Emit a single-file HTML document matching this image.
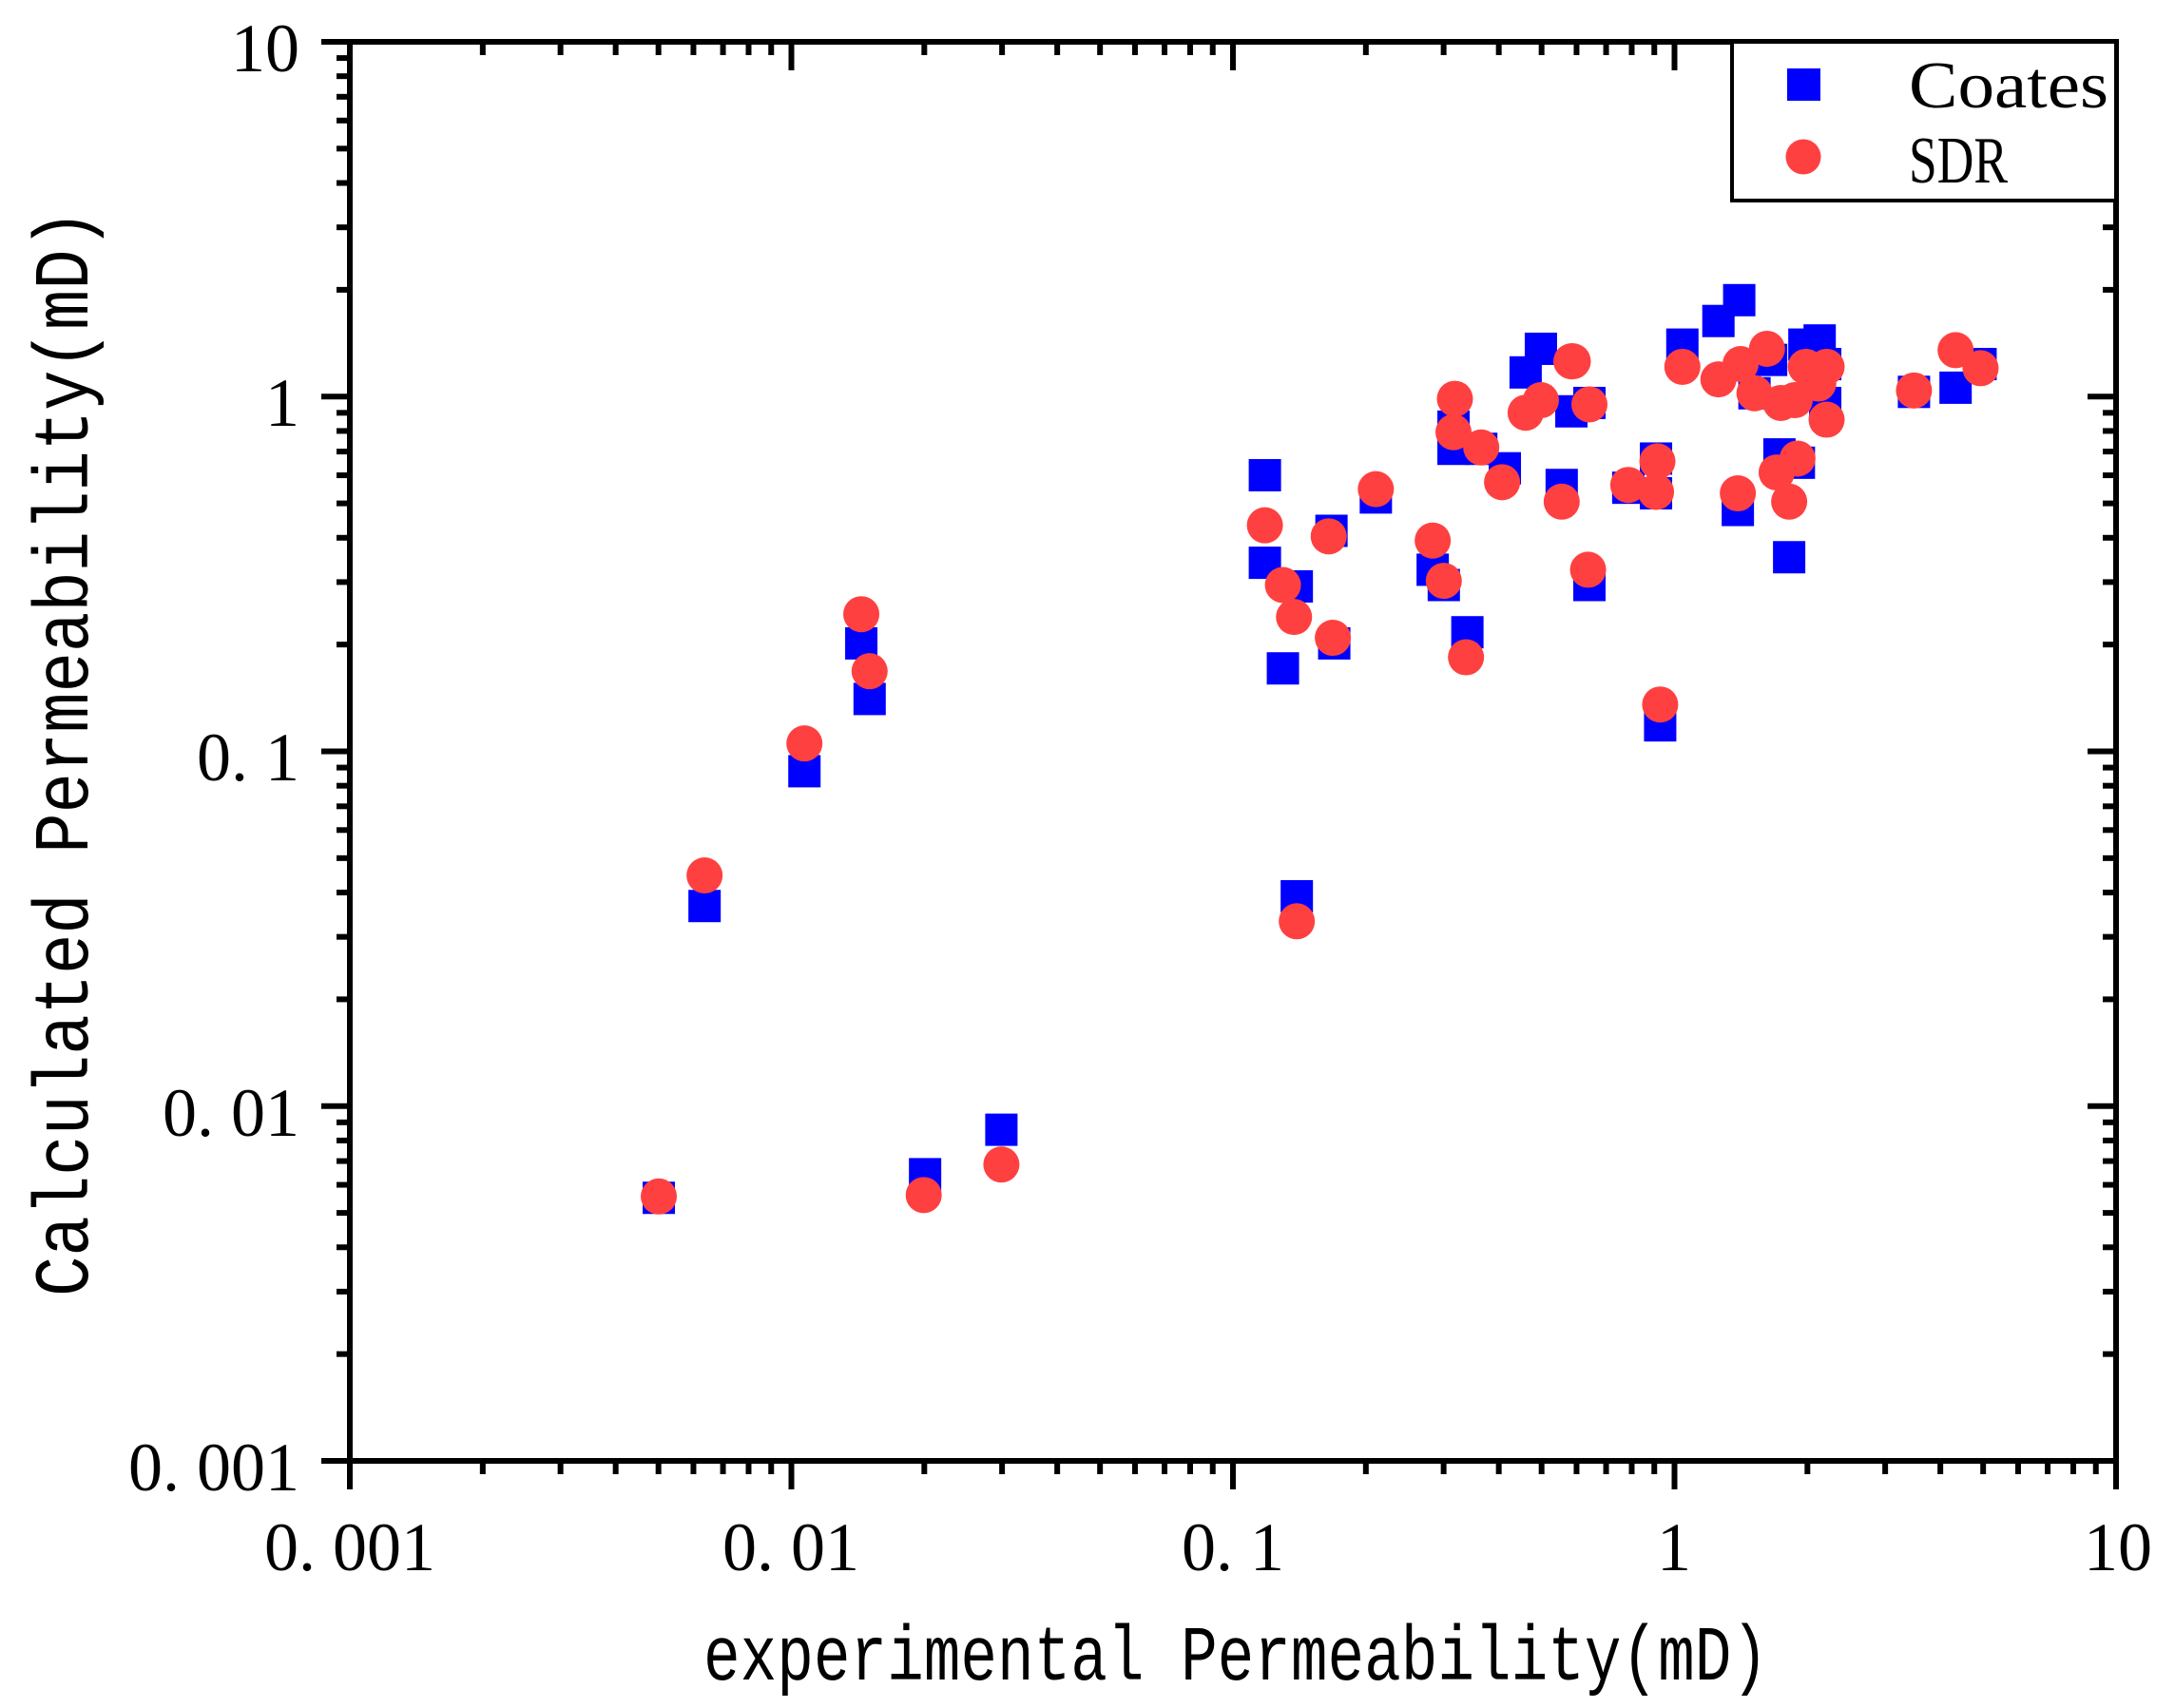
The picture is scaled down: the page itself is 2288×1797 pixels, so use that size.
<!DOCTYPE html>
<html><head><meta charset="utf-8"><style>
html,body{margin:0;padding:0;background:#fff;}
svg{display:block;}
</style></head><body>
<svg id="s" width="2288" height="1797" xmlns="http://www.w3.org/2000/svg">
<rect width="2288" height="1797" fill="#fff"/>
<g id="data"></g>
<g id="ticks" stroke="#000" stroke-width="6"></g>
<rect x="368" y="44" width="1858" height="1493" fill="none" stroke="#000" stroke-width="6"/>
<g font-family="Liberation Serif, serif" font-size="72" fill="#000">
<text x="315" y="75" text-anchor="end">10</text>
<text x="315" y="448" text-anchor="end">1</text>
<text x="315" y="821" text-anchor="end">0. 1</text>
<text x="315" y="1195" text-anchor="end">0. 01</text>
<text x="315" y="1568" text-anchor="end">0. 001</text>
<text x="368" y="1652" text-anchor="middle">0. 001</text>
<text x="832" y="1652" text-anchor="middle">0. 01</text>
<text x="1297" y="1652" text-anchor="middle">0. 1</text>
<text x="1761" y="1652" text-anchor="middle">1</text>
<text x="2228" y="1652" text-anchor="middle">10</text>
</g>
<text transform="translate(740,1767) scale(1,1.2)" x="0" y="0" font-family="Liberation Mono, monospace" font-size="68" textLength="1120" lengthAdjust="spacingAndGlyphs">experimental Permeability(mD)</text>
<text transform="translate(92,1364) rotate(-90) scale(1,1.2)" x="0" y="0" font-family="Liberation Mono, monospace" font-size="68" textLength="1144" lengthAdjust="spacingAndGlyphs">Calculated Permeability(mD)</text>
<rect x="1822" y="44" width="404" height="167" fill="#fff" stroke="#000" stroke-width="4"/>
<rect x="1880" y="72" width="35" height="34" fill="#0000ff"/>
<circle cx="1897" cy="165" r="18.5" fill="#ff4040"/>
<text x="2008" y="113" font-family="Liberation Serif, serif" font-size="70" textLength="210" lengthAdjust="spacingAndGlyphs">Coates</text>
<text x="2008" y="192" font-family="Liberation Serif, serif" font-size="70" textLength="104" lengthAdjust="spacingAndGlyphs">SDR</text>
</svg>
<script>
var NS="http://www.w3.org/2000/svg";
var L=368,R=2226,T=44,B=1537,dx=(R-L)/4,dy=(B-T)/4;
var tg=document.getElementById("ticks");
function line(x1,y1,x2,y2){var l=document.createElementNS(NS,"line");l.setAttribute("x1",x1);l.setAttribute("y1",y1);l.setAttribute("x2",x2);l.setAttribute("y2",y2);tg.appendChild(l);}
for(var d=0;d<4;d++){for(var m=1;m<10;m++){
 var fx=L+dx*(d+Math.log10(m)); var fy=B-dy*(d+Math.log10(m));
 if(m==1){line(fx,B,fx,B+30);line(fx,T,fx,T+30);line(L-30,fy,L,fy);line(R,fy,R-30,fy);}
 else{line(fx,B,fx,B+14);line(fx,T,fx,T+14);line(L-14,fy,L,fy);line(R,fy,R-14,fy);}
}}
line(R,B,R,B+30);line(L-30,T,L,T);
var kx=1.459, ky=1.462;
var sq=[[475,862],[508,652],[580,555],[621,463],[627,503],[667,845],[722,813],[912,342],[912,405],[925,481],[935,422],[935,645],[960,382],[962,463],[992,358],[1033,410],[1041,421],[1048,307],[1048,323],[1058,455],[1068,323],[1085,337],[1100,268],[1111,251],[1126,349],[1133,296],[1146,290],[1146,421],[1174,351],[1194,330],[1194,355],[1197,522],[1213,248],[1239,231],[1254,216],[1253,367],[1265,283],[1277,259],[1283,327],[1290,401],[1297,333],[1301,248],[1312,245],[1316,262],[1316,290],[1380,282],[1410,279],[1428,262]];
var ci=[[475,861],[508,630],[580,535],[621,442],[627,483],[666,860],[722,838],[912,378],[925,421],[933,444],[958,386],[961,459],[992,352],[1033,389],[1041,418],[1049,287],[1048,311],[1057,473],[1068,322],[1083,347],[1100,297],[1111,288],[1126,361],[1134,260],[1146,291],[1145,410],[1174,349],[1194,354],[1195,332],[1197,507],[1213,264],[1239,273],[1253,355],[1255,262],[1265,283],[1274,251],[1281,340],[1284,290],[1290,361],[1296,330],[1294,288],[1302,264],[1311,276],[1317,264],[1317,302],[1380,281],[1410,252],[1428,265],[935,663],[1133,260]];
var g=document.getElementById("data");
sq.forEach(function(p){var r=document.createElementNS(NS,"rect");r.setAttribute("x",p[0]*kx-17);r.setAttribute("y",p[1]*ky-17);r.setAttribute("width",34);r.setAttribute("height",34);r.setAttribute("fill","#0000ff");g.appendChild(r);});
ci.forEach(function(p){var c=document.createElementNS(NS,"circle");c.setAttribute("cx",p[0]*kx);c.setAttribute("cy",p[1]*ky);c.setAttribute("r",19);c.setAttribute("fill","#ff4040");g.appendChild(c);});
</script>
</body></html>
